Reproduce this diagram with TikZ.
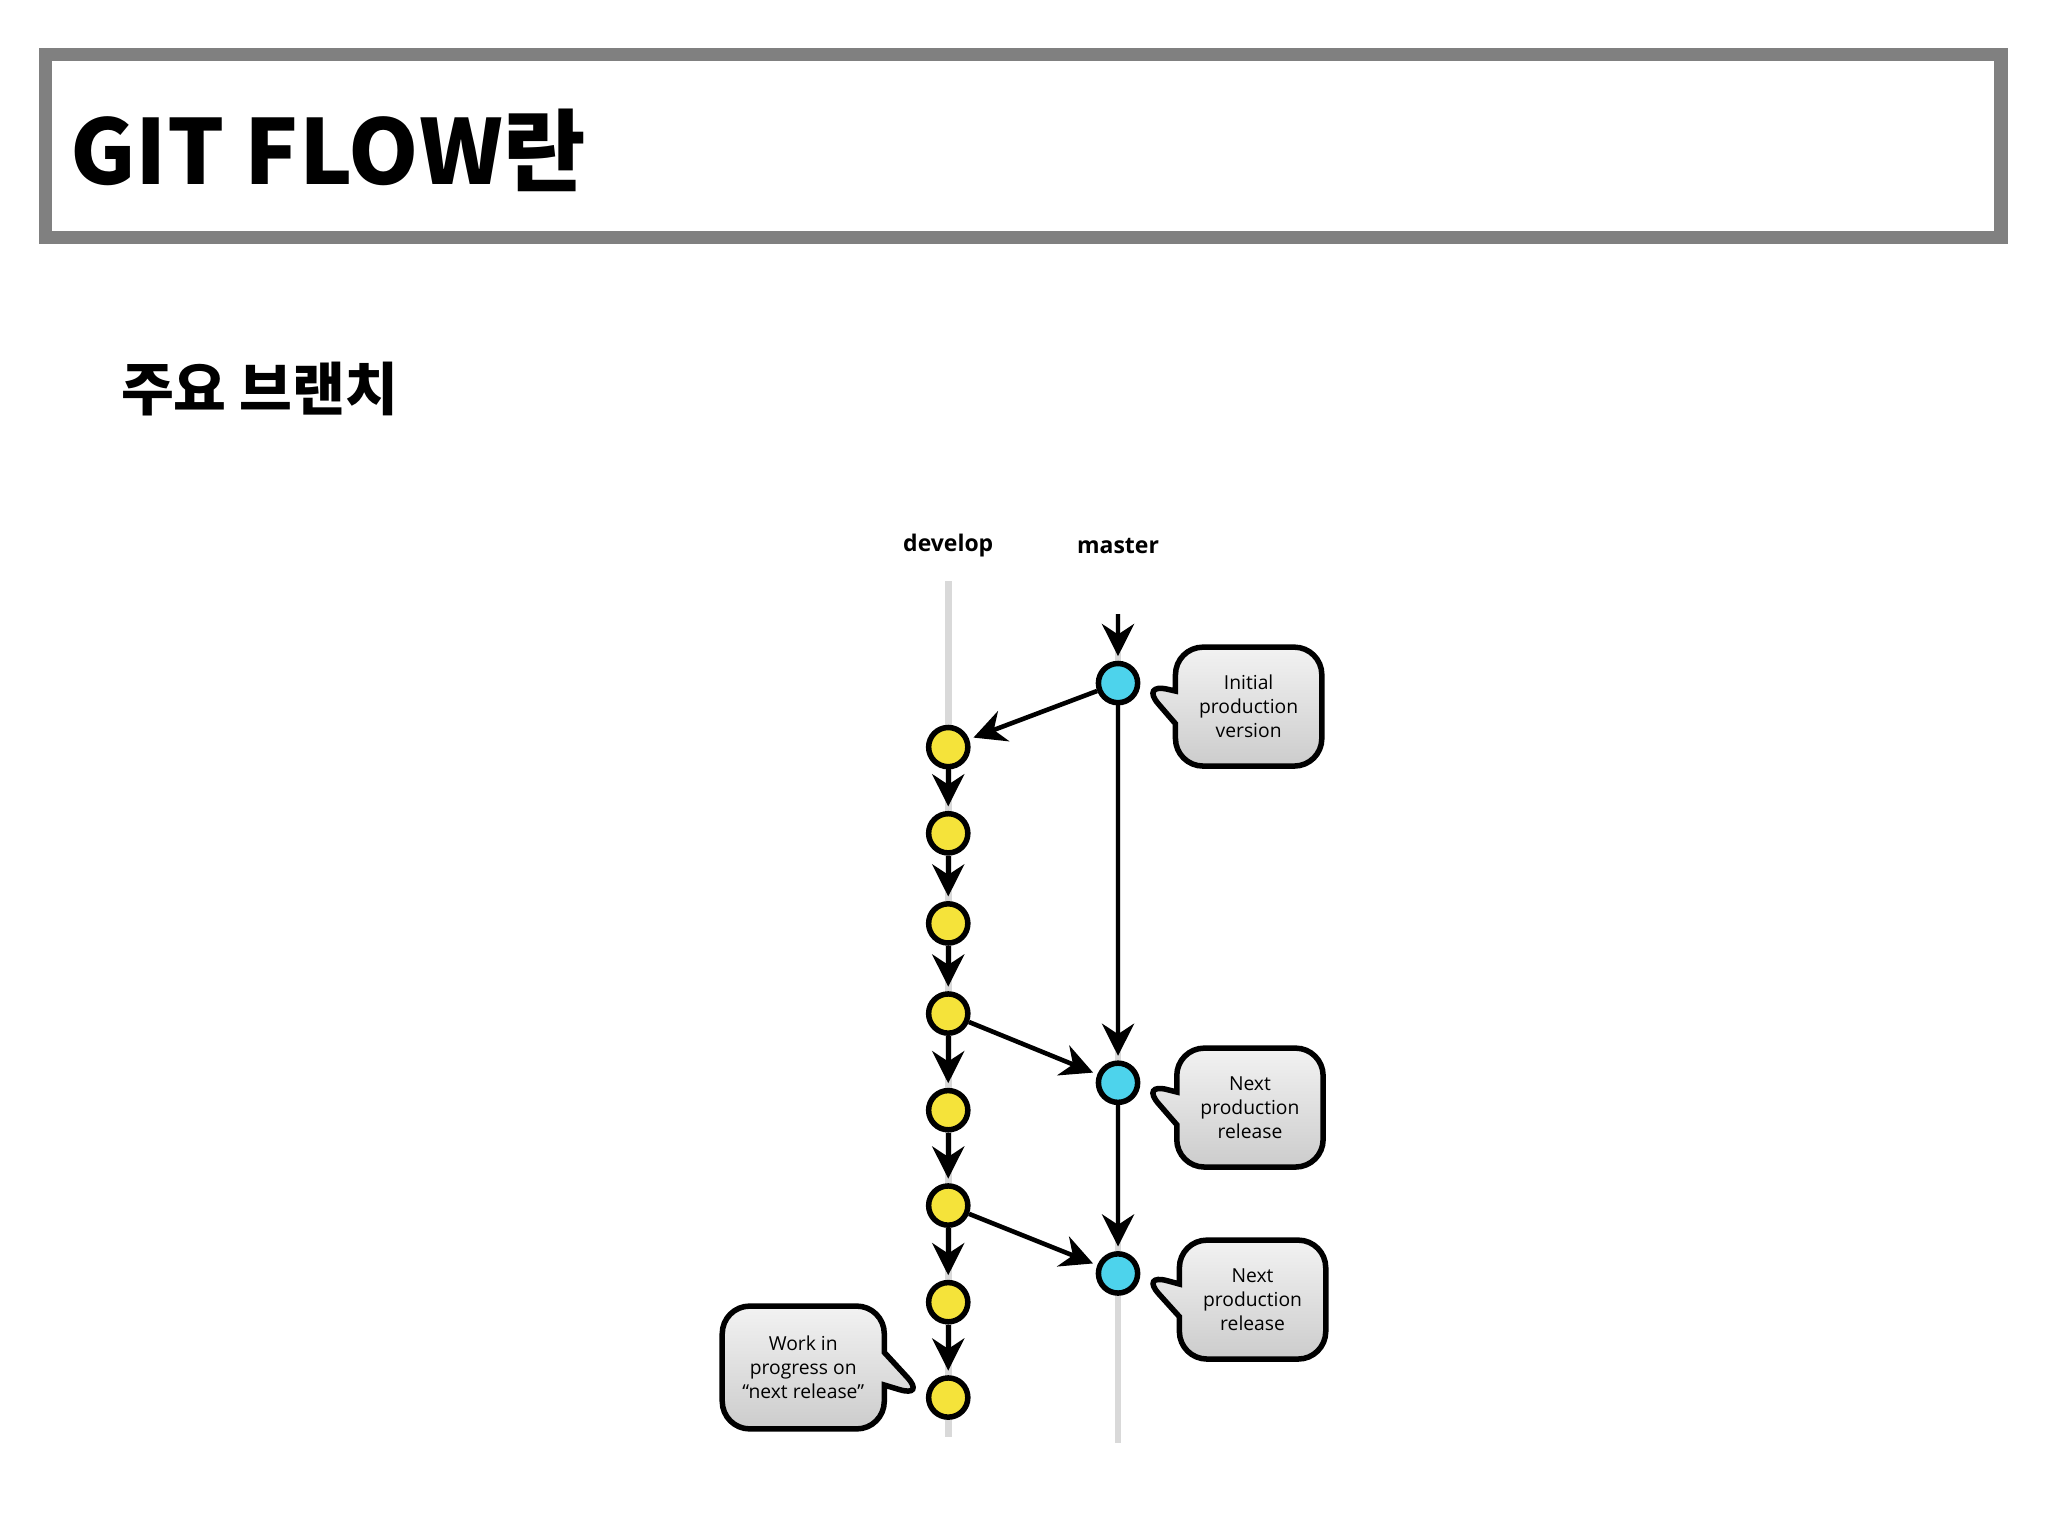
\documentclass[tikz,border=0pt]{standalone}
\usepackage{fontspec}
\setmainfont{Noto Sans CJK KR}
\newfontfamily\diag{Open Sans}
\usetikzlibrary{arrows.meta,shapes.callouts}
\definecolor{dev}{HTML}{F5E33A}
\definecolor{mas}{HTML}{4DD3EC}
\definecolor{frame}{HTML}{808080}
\tikzset{
  x=0.01cm,y=-0.01cm,
  dnode/.style={circle,draw=black,line width=1.2pt,fill=dev,minimum size=0.3cm,inner sep=0pt},
  mnode/.style={circle,draw=black,line width=1.2pt,fill=mas,minimum size=0.3cm,inner sep=0pt},
  flow/.style={-{Stealth[length=7pt,width=7pt]},line width=1pt,shorten >=1pt},
  branch/.style={line width=1.5pt,color=black!15},
  note/.style={rectangle callout,rounded corners=6pt,draw=black,line width=1.2pt,
    top color=black!5,bottom color=black!20,align=center,
    font=\diag\fontsize{4.2}{5.2}\selectfont,minimum width=1.12cm,minimum height=0.91cm,inner sep=1pt},
  lbl/.style={font=\diag\bfseries\fontsize{5}{6}\selectfont}
}
\begin{document}
\begin{tikzpicture}
\useasboundingbox (0,0) rectangle (1568,1176);
\fill[white] (0,0) rectangle (1568,1176);
\draw[frame,line width=0.1cm] (35,42) rectangle (1532,182);
\node[anchor=base west,inner sep=0,font=\bfseries\fontsize{19.5}{24}\selectfont] (title) at (53,141) {GIT FLOW란};
\node[anchor=base west,inner sep=0,font=\bfseries\fontsize{12.5}{15}\selectfont] (sub) at (92,314) {주요 브랜치};
\node[lbl] (ldev) at (726,418) {develop};
\node[lbl] (lmas) at (856,418) {master};
\coordinate (dtop) at (726,445);
\coordinate (mtop) at (856,470);
\coordinate (mbot) at (856,1105);
\coordinate (dbot) at (726,1100);
\draw[branch] (dtop) -- (dbot);
\draw[branch] (mtop) -- (mbot);
\foreach \i/\y in {1/572,2/638,3/707,4/776,5/850,6/923,7/997,8/1070}
  \node[dnode] (d\i) at (726,\y) {};
\foreach \i/\y in {1/523,2/829,3/975}
  \node[mnode] (m\i) at (856,\y) {};
\draw[flow] (mtop) -- (m1);
\draw[flow] (m1) -- (d1);
\draw[flow] (m1) -- (m2);
\draw[flow] (m2) -- (m3);
\foreach \a/\b in {1/2,2/3,3/4,4/5,5/6,6/7,7/8}
  \draw[flow] (d\a) -- (d\b);
\draw[flow] (d4) -- (m2);
\draw[flow] (d6) -- (m3);
\node[note,callout absolute pointer={(m1.east)}] (n1) at (956,541) {Initial\\production\\version};
\node[note,callout absolute pointer={(m2.east)}] (n2) at (957,848) {Next\\production\\release};
\node[note,callout absolute pointer={(m3.east)}] (n3) at (959,995) {Next\\production\\release};
\node[note,minimum width=1.24cm,minimum height=0.94cm,callout absolute pointer={(d8.west)}] (n4) at (615,1047) {Work in\\progress on\\“next release”};
\end{tikzpicture}
\end{document}
